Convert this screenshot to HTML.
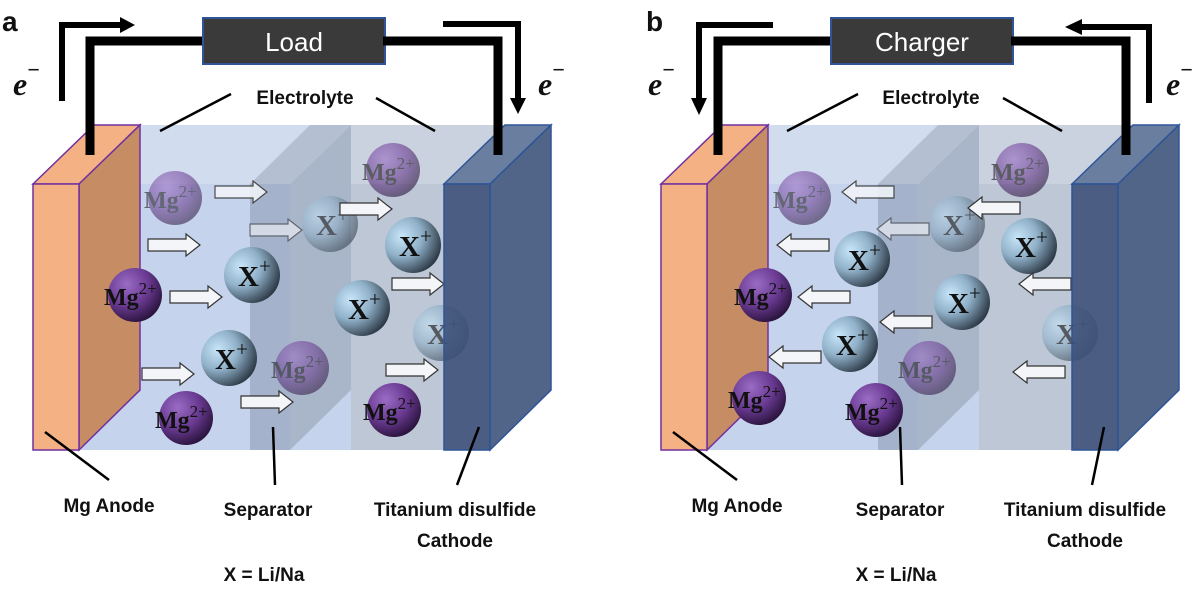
<!DOCTYPE html>
<html><head><meta charset="utf-8"><style>
html,body{margin:0;padding:0;background:#fff}
svg{display:block}
.lab{font-family:"Liberation Sans",sans-serif;font-weight:bold;font-size:19px;fill:#111}
.ion{font-family:"Liberation Serif",serif;font-weight:bold;fill:#111}
.e{font-family:"Liberation Serif",serif;font-weight:bold;font-style:italic;font-size:32px;fill:#111}
</style></head><body>
<svg width="1200" height="589" viewBox="0 0 1200 589" xmlns="http://www.w3.org/2000/svg">
<defs>
<radialGradient id="gx" cx="0.3" cy="0.35" r="0.8">
<stop offset="0" stop-color="#c8e6fa"/><stop offset="0.45" stop-color="#8fb0c8"/><stop offset="1" stop-color="#1c2530"/></radialGradient>
<radialGradient id="gm" cx="0.35" cy="0.3" r="0.8">
<stop offset="0" stop-color="#9a6cc4"/><stop offset="0.5" stop-color="#6a3a92"/><stop offset="1" stop-color="#1e0c2c"/></radialGradient>
<g id="body">
<polygon points="79,450 79,184 140,125 551,125 551,390 490,450" fill="#c6d3ec"/>
<polygon points="79,184 140,125 551,125 490,184" fill="#d1dcef"/>
<rect x="351" y="125" width="139" height="325" fill="#bdc7d5"/>
<polygon points="351,125 551,125 490,184 351,184" fill="#c9d2de"/>
<rect x="250" y="184" width="40" height="266" fill="#a4b3cb"/>
<polygon points="290,184 351,125 351,390 290,450" fill="#a9b5c9"/>
<polygon points="250,184 310,125 351,125 290,184" fill="#b4c0d2"/>
<polygon points="33,184 94,125 140,125 79,184" fill="#f4b183" stroke="#7030a0" stroke-width="1.5"/>
<polygon points="79,184 140,125 140,390 79,450" fill="#c68c63" stroke="#7030a0" stroke-width="1.5"/>
<rect x="33" y="184" width="46" height="266" fill="#f4b183" stroke="#7030a0" stroke-width="1.5"/>
</g>
<g id="cath">
<polygon points="444,184 505,125 551,125 490,184" fill="#5f7598" fill-opacity="0.9" stroke="#2f5597" stroke-width="1.5"/>
<polygon points="490,184 551,125 551,390 490,450" fill="#475b80" fill-opacity="0.92" stroke="#2f5597" stroke-width="1.5"/>
<rect x="444" y="184" width="46" height="266" fill="#3b4f78" fill-opacity="0.88" stroke="#2f5597" stroke-width="1.5"/>
</g>
<g id="ra"><polygon points="0,-6 38,-6 38,-11 52,0 38,11 38,6 0,6" fill="#f3f5f9" stroke="#333" stroke-width="1.2"/></g>
<g id="la"><polygon points="0,-6 -38,-6 -38,-11 -52,0 -38,11 -38,6 0,6" fill="#f3f5f9" stroke="#333" stroke-width="1.2"/></g>
<g id="X"><circle r="28" fill="url(#gx)"/><text class="ion" x="-14" y="11" font-size="29">X<tspan font-size="21" dy="-13" font-weight="normal">+</tspan></text></g>
<g id="M"><circle r="27" fill="url(#gm)"/><text class="ion" x="-31" y="10" font-size="24">Mg<tspan font-size="17" dy="-11" font-weight="normal">2+</tspan></text></g>
</defs>

<!-- PANEL A -->
<text x="2" y="31" font-family="Liberation Sans,sans-serif" font-weight="bold" font-size="28" fill="#111">a</text>
<use href="#body"/>
<polyline points="90,155 90,41 205,41" fill="none" stroke="#000" stroke-width="9"/>
<rect x="203" y="18" width="182" height="46" fill="#3a3a3a" stroke="#2f5597" stroke-width="2"/>
<text x="294" y="51" text-anchor="middle" font-family="Liberation Sans,sans-serif" font-size="26" fill="#fff">Load</text>
<polyline points="62,101 62,25 122,25" fill="none" stroke="#000" stroke-width="6"/>
<polygon points="120,17 135,25 120,33" fill="#000"/>
<polyline points="443,24 518,24 518,100" fill="none" stroke="#000" stroke-width="6"/>
<polygon points="510,98 518,114 526,98" fill="#000"/>
<text class="e" x="13" y="95">e<tspan font-size="22" dy="-18" font-style="normal">−</tspan></text>
<text class="e" x="538" y="95">e<tspan font-size="22" dy="-18" font-style="normal">−</tspan></text>
<text class="lab" x="305" y="104" text-anchor="middle" font-size="20">Electrolyte</text>
<line x1="160" y1="131" x2="231" y2="94" stroke="#000" stroke-width="2.5"/>
<line x1="376" y1="98" x2="435" y2="131" stroke="#000" stroke-width="2.5"/>
<use href="#M" x="175" y="198" opacity="0.55"/>
<use href="#X" x="330" y="224" opacity="0.55"/>
<use href="#M" x="393" y="170" opacity="0.6"/>
<use href="#M" x="302" y="368" opacity="0.55"/>
<use href="#X" x="441" y="333" opacity="0.6"/>
<use href="#M" x="135" y="295"/>
<use href="#X" x="252" y="275"/>
<use href="#X" x="413" y="245"/>
<use href="#X" x="362" y="308"/>
<use href="#X" x="229" y="358"/>
<use href="#M" x="186" y="418"/>
<use href="#M" x="394" y="410"/>
<use href="#ra" x="215" y="192" opacity="0.85"/>
<use href="#ra" x="250" y="230" opacity="0.6"/>
<use href="#ra" x="148" y="245"/>
<use href="#ra" x="170" y="297"/>
<use href="#ra" x="340" y="209"/>
<use href="#ra" x="392" y="284"/>
<use href="#ra" x="142" y="374"/>
<use href="#ra" x="241" y="402"/>
<use href="#ra" x="386" y="370"/>
<use href="#cath"/>
<polyline points="383,41 498,41 498,155" fill="none" stroke="#000" stroke-width="9"/>
<line x1="45" y1="432" x2="109" y2="480" stroke="#000" stroke-width="2.5"/>
<line x1="273" y1="427" x2="275" y2="485" stroke="#000" stroke-width="2.5"/>
<line x1="479" y1="427" x2="457" y2="485" stroke="#000" stroke-width="2.5"/>
<text class="lab" x="109" y="512" text-anchor="middle">Mg Anode</text>
<text class="lab" x="268" y="516" text-anchor="middle">Separator</text>
<text class="lab" x="455" y="516" text-anchor="middle">Titanium disulfide</text>
<text class="lab" x="455" y="547" text-anchor="middle">Cathode</text>
<text class="lab" x="264" y="581" text-anchor="middle">X = Li/Na</text>

<!-- PANEL B -->
<text x="646" y="31" font-family="Liberation Sans,sans-serif" font-weight="bold" font-size="28" fill="#111">b</text>
<use href="#body" x="628"/>
<polyline points="718,155 718,41 833,41" fill="none" stroke="#000" stroke-width="9"/>
<rect x="831" y="18" width="182" height="46" fill="#3a3a3a" stroke="#2f5597" stroke-width="2"/>
<text x="922" y="51" text-anchor="middle" font-family="Liberation Sans,sans-serif" font-size="26" fill="#fff">Charger</text>
<polyline points="773,25 699,25 699,100" fill="none" stroke="#000" stroke-width="6"/>
<polygon points="691,98 699,115 707,98" fill="#000"/>
<polyline points="1149,103 1149,27 1080,27" fill="none" stroke="#000" stroke-width="6"/>
<polygon points="1082,19 1065,27 1082,35" fill="#000"/>
<text class="e" x="648" y="95">e<tspan font-size="22" dy="-18" font-style="normal">−</tspan></text>
<text class="e" x="1166" y="95">e<tspan font-size="22" dy="-18" font-style="normal">−</tspan></text>
<text class="lab" x="931" y="104" text-anchor="middle" font-size="20">Electrolyte</text>
<line x1="787" y1="131" x2="858" y2="94" stroke="#000" stroke-width="2.5"/>
<line x1="1003" y1="98" x2="1062" y2="131" stroke="#000" stroke-width="2.5"/>
<use href="#M" x="804" y="198" opacity="0.55"/>
<use href="#X" x="957" y="224" opacity="0.55"/>
<use href="#M" x="1022" y="170" opacity="0.6"/>
<use href="#M" x="929" y="368" opacity="0.55"/>
<use href="#X" x="1070" y="333" opacity="0.6"/>
<use href="#X" x="862" y="259"/>
<use href="#M" x="765" y="295"/>
<use href="#X" x="1029" y="246"/>
<use href="#X" x="962" y="302"/>
<use href="#X" x="850" y="344"/>
<use href="#M" x="759" y="398"/>
<use href="#M" x="876" y="410"/>
<use href="#la" x="894" y="192" opacity="0.85"/>
<use href="#la" x="929" y="229" opacity="0.6"/>
<use href="#la" x="829" y="245"/>
<use href="#la" x="850" y="297"/>
<use href="#la" x="1020" y="208"/>
<use href="#la" x="1071" y="284"/>
<use href="#la" x="932" y="322"/>
<use href="#la" x="821" y="357"/>
<use href="#la" x="1065" y="372"/>
<use href="#cath" x="628"/>
<polyline points="1011,41 1126,41 1126,155" fill="none" stroke="#000" stroke-width="9"/>
<line x1="673" y1="432" x2="737" y2="480" stroke="#000" stroke-width="2.5"/>
<line x1="900" y1="427" x2="902" y2="485" stroke="#000" stroke-width="2.5"/>
<line x1="1104" y1="427" x2="1092" y2="485" stroke="#000" stroke-width="2.5"/>
<text class="lab" x="737" y="512" text-anchor="middle">Mg Anode</text>
<text class="lab" x="900" y="516" text-anchor="middle">Separator</text>
<text class="lab" x="1085" y="516" text-anchor="middle">Titanium disulfide</text>
<text class="lab" x="1085" y="547" text-anchor="middle">Cathode</text>
<text class="lab" x="896" y="581" text-anchor="middle">X = Li/Na</text>
</svg>
</body></html>
